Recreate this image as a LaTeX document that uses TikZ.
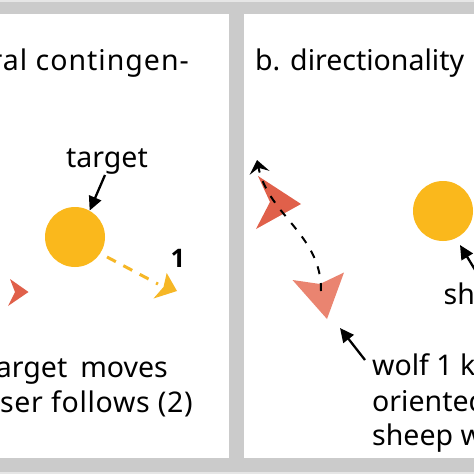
\documentclass[tikz,border=0pt]{standalone}
\usepackage{fontspec}
\setmainfont{Noto Sans}
\newfontfamily\numfont{Open Sans}
\usetikzlibrary{arrows.meta}
\definecolor{bggray}{HTML}{CBCBCB}
\definecolor{bglight}{HTML}{E6E6E6}
\definecolor{sunyellow}{HTML}{FAB81C}
\definecolor{dartyellow}{HTML}{F6B726}
\definecolor{wolfred}{HTML}{E0604A}
\definecolor{wolfsalmon}{HTML}{EA8470}
\tikzset{
  txt/.style={font=\fontsize{28.5}{32}\selectfont, inner sep=0pt, text=black},
  numlbl/.style={font=\numfont\fontsize{25.5}{30}\selectfont\bfseries, inner sep=0pt, text=black},
  ball/.style={circle, fill=sunyellow, minimum size=60pt, inner sep=0pt},
  pointer/.style={draw=black, line width=2.3pt, -{Triangle[length=14pt,width=13pt]}},
  chase/.style={draw=dartyellow, line width=3pt, dash pattern=on 10pt off 8.5pt},
  turnpath/.style={draw=black, line width=2pt, dash pattern=on 8pt off 9pt, -{Stealth[length=13pt,width=20pt,inset=5pt]}},
}
\begin{document}
\begin{tikzpicture}[x=1pt,y=-1pt]
\useasboundingbox (0,0) rectangle (474,474);
\clip (0,0) rectangle (474,474);
% background and panels
\fill[bggray] (0,0) rectangle (474,474);
\fill[bglight] (0,0) rectangle (474,1.5);
\fill[bglight] (0,471.5) rectangle (474,474);
\fill[white] (-10,14) rectangle (229,458);
\fill[white] (244,14) rectangle (490,458);

% ---------- left panel ----------
\node[txt, anchor=base east] (titleA) at (189,70) {\addfontfeature{LetterSpace=3.5}a. temporal contingen-};
\node[txt, anchor=base] (lbltarget) at (107,167) {target};
\node[ball] (tgtA) at (75,237) {};
\coordinate (tA) at (105,175);
\draw[pointer] (tA) -- (tgtA.61);

% red agent (left)
\fill[wolfred] (10,279) -- (28.5,292) -- (8,306) -- (15,292) -- cycle;
% yellow agent
\fill[dartyellow] (166.7,273) -- (177,291) -- (153.5,298.5) -- (163.5,287) -- cycle;
\coordinate (cs) at (107,257);
\coordinate (ce) at (158,284);
\draw[chase] (cs) -- (ce);
\node[numlbl, anchor=base] (one) at (178,267) {1};

\node[txt, anchor=base east] (lineA1) at (168,377) {target\hspace{13pt}moves};
\node[txt, anchor=base east] (lineA2) at (193,412) {\addfontfeature{LetterSpace=2.5}chaser follows (2)};

% ---------- right panel ----------
\node[txt, anchor=base west] (titleB) at (255,70) {b. directionality};
\node[ball] (sheepB) at (443,211) {};

% wolf agents
\fill[wolfred] (258,176) -- (301,204) -- (256,229) -- (270,202) -- cycle;
\fill[wolfsalmon] (292.5,280) -- (320,284) -- (344,272.5) -- (327,319) -- cycle;
\coordinate (wnow) at (321,291);
\coordinate (wend) at (257,160);
\draw[turnpath] (wnow) .. controls (322,235) and (268,215) .. (wend);

% sheep label and pointer
\node[txt, anchor=base west] (lblsheep) at (443.5,304) {sheep};
\coordinate (sa) at (480,278);
\coordinate (sb) at (460,245);
\draw[pointer] (sa) -- (sb);

% wolf text and pointer
\coordinate (wa) at (365,360);
\coordinate (wb) at (340,328);
\draw[pointer] (wa) -- (wb);
\node[txt, anchor=base west] (lineB1) at (372,375) {wolf 1 keeps};
\node[txt, anchor=base west] (lineB2) at (372,411) {oriented to};
\node[txt, anchor=base west] (lineB3) at (372,445) {sheep while};
\end{tikzpicture}
\end{document}
